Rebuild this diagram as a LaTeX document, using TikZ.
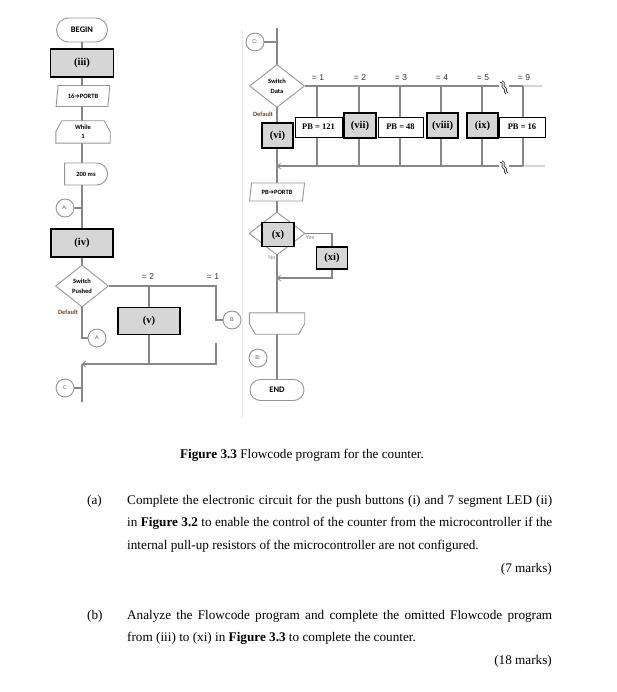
\documentclass[tikz,border=0pt]{standalone}
\usepackage{fontspec}
\setmainfont{Liberation Serif}
\newfontfamily\carl{Carlito}
\newfontfamily\arl{Liberation Sans}
\newfontfamily\dvs{DejaVu Sans}
\usetikzlibrary{shapes.geometric,shapes.misc,arrows.meta,backgrounds}
\definecolor{flow}{RGB}{135,135,135}
\definecolor{shpc}{RGB}{150,150,150}
\definecolor{boxfill}{RGB}{214,214,214}
\definecolor{deflt}{RGB}{115,65,25}
\begin{document}
\begin{tikzpicture}[x=1pt,y=-1pt,
 flowl/.style={draw=flow,line width=1.3pt},
 arr/.style={flowl,-{Straight Barb[length=3pt,width=6pt,line width=0.8pt]}},
 gbox/.style={draw=black,fill=boxfill,line width=1.3pt,inner sep=0pt,font=\bfseries\fontsize{10.5}{12}\selectfont},
 wbox/.style={draw=black,fill=white,line width=0.9pt,inner sep=0pt,font=\bfseries\fontsize{8.5}{10}\selectfont},
 term/.style={rounded rectangle,draw=shpc,fill=white,line width=0.9pt,inner sep=0pt,font=\carl\bfseries\fontsize{8.5}{10}\selectfont},
 delay/.style={rounded rectangle,rounded rectangle left arc=none,draw=shpc,fill=white,line width=0.9pt,inner sep=0pt,font=\carl\bfseries\fontsize{6.5}{7}\selectfont},
 para/.style={trapezium,trapezium left angle=74,trapezium right angle=106,trapezium stretches=true,draw=shpc,fill=white,line width=0.9pt,inner sep=0pt,font=\carl\bfseries\fontsize{6.5}{7}\selectfont},
 plainn/.style={inner sep=0pt,align=center,font=\carl\bfseries\fontsize{6.5}{9}\selectfont},
 shp/.style={draw=shpc,fill=white,line width=0.9pt},
 dia/.style={diamond,draw=shpc,fill=white,line width=0.9pt,inner sep=0pt,align=center,font=\carl\bfseries\fontsize{6.5}{9.5}\selectfont},
 conn/.style={circle,draw=shpc,fill=white,line width=0.9pt,minimum size=18pt,inner sep=0pt,text=black!65,font=\arl\fontsize{5.5}{6}\selectfont},
 lab/.style={inner sep=0pt,text=black!80,font=\arl\fontsize{8.5}{10}\selectfont},
 deflab/.style={inner sep=0pt,text=deflt,font=\carl\bfseries\fontsize{6.5}{7}\selectfont},
 yn/.style={inner sep=0pt,text=black!50,font=\arl\fontsize{5.5}{6}\selectfont},
 body/.style={inner sep=0pt,anchor=base west,font=\fontsize{13.2}{15}\selectfont},
 brk/.pic={
  \fill[white] (-4,-7) rectangle (6,7);
  \draw[black!75,line width=0.8pt] (-3,-6) .. controls (2,-5) and (-3,-1) .. (0,0) .. controls (3,1) and (0,5) .. (3,6);
  \draw[black!75,line width=0.8pt] (-1,-7) .. controls (4,-6) and (-1,-2) .. (2,-1) .. controls (5,0) and (2,4) .. (5,5);
 }]
\useasboundingbox (0,0) rectangle (617,692);

% ---------- left column ----------
\node[term,minimum width=51pt,minimum height=24pt] (begin) at (82,30) {BEGIN};
\node[gbox,minimum width=63pt,minimum height=28pt] (iii) at (82,63) {(iii)};
\node[para,minimum width=54pt,minimum height=21pt] (p16) at (83,96) {16{\dvs\fontsize{6.5}{7}\selectfont ➔}PORTB};
\node[plainn,minimum width=54pt,minimum height=22pt] (while) at (83,132) {While\\1};
\node[delay,minimum width=43pt,minimum height=22pt] (d200) at (86,174) {200 ms};
\node[conn] (ca) at (65,208) {A:};
\coordinate (ta) at (82,208);
\node[gbox,minimum width=62pt,minimum height=28pt] (iv) at (82,243) {(iv)};
\node[dia,minimum width=53pt,minimum height=42pt] (sw1) at (82,286) {Switch\\Pushed};
\node[lab] (l2) at (148,277) {= 2};
\node[lab] (l1) at (213,277) {= 1};
\coordinate (c1) at (216,286);
\coordinate (c2) at (216,320);
\node[conn] (gb) at (232,320) {B};
\coordinate (m2) at (149,286);
\node[gbox,minimum width=62pt,minimum height=27pt] (v) at (149,321) {(v)};
\coordinate (s1) at (216,343);
\coordinate (s2) at (216,364);
\coordinate (j1) at (149,364);
\coordinate (j0) at (82,364);
\node[deflab] (def1) at (68,312) {Default};
\coordinate (d1) at (82,338);
\node[conn] (ga) at (97,338) {A};
\node[conn] (cc) at (65,388) {C};
\coordinate (tc) at (82,388);
\coordinate (lend) at (82,402);

% ---------- right column ----------
\coordinate (rtop) at (277,28);
\node[conn] (cC) at (255,42) {C:};
\coordinate (tC) at (277,42);
\node[dia,minimum width=55pt,minimum height=43pt] (sd) at (277,86) {Switch\\Data};
\node[deflab] (def2) at (263,114) {Default};
\foreach \xx/\tt in {317/1,359/2,400/3,441/4,482/5,523/9}{
  \node[lab] (e\tt) at (\xx+1,78) {= \tt};
}
\node[gbox,minimum width=31pt,minimum height=25pt] (vi) at (277.5,135.5) {(vi)};
\node[wbox,minimum width=47pt,minimum height=20pt] (pb121) at (318.5,127) {PB = 121};
\node[gbox,minimum width=32pt,minimum height=25pt] (vii) at (360,125.5) {(vii)};
\node[wbox,minimum width=45pt,minimum height=20pt] (pb48) at (400.5,127) {PB = 48};
\node[gbox,minimum width=31pt,minimum height=25pt] (viii) at (442.5,125.5) {(viii)};
\node[gbox,minimum width=31pt,minimum height=25pt] (ix) at (482.5,125.5) {(ix)};
\node[wbox,minimum width=46pt,minimum height=20pt] (pb16) at (522,127) {PB = 16};
\coordinate (hr) at (523,86);
\coordinate (hrx) at (542,86);
\coordinate (br) at (523,166);
\coordinate (brx) at (545,166);
\coordinate (bm) at (277,166);
\node[para,minimum width=55pt,minimum height=18pt] (pbp) at (277,192) {PB{\dvs\fontsize{6.5}{7}\selectfont ➔}PORTB};
\node[dia,minimum width=56pt,minimum height=43pt] (xd) at (277,233.5) {};
\node[gbox,minimum width=32pt,minimum height=24pt] (x) at (278,234.7) {(x)};
\node[yn] (yes) at (310,238) {Yes};
\node[yn] (no) at (272,258) {No};
\coordinate (y1) at (332,233.5);
\node[gbox,minimum width=31pt,minimum height=22pt] (xi) at (332,258) {(xi)};
\coordinate (y2) at (332,278);
\coordinate (y3) at (277,278);
\node[plainn,minimum width=55pt,minimum height=21pt] (lp) at (277,323.5) {};
\node[conn] (cB) at (258,358) {B:};
\coordinate (tB) at (277,358);
\node[term,minimum width=54pt,minimum height=21pt] (end) at (277,390) {END};

\pic at (503,88) {brk};
\pic at (503,168) {brk};

\begin{scope}[on background layer]
  \draw[black!10,line width=0.5pt] (242,30) -- (242,418);
  % left
  \draw[flowl] (begin.south) -- (sw1.north);
  \draw[flowl] (ca) -- (ta);
  \draw[flowl] (sw1.east) -- (c1) -- (c2) -- (gb);
  \draw[flowl] (m2) -- (v.north);
  \draw[flowl] (v.south) -- (j1);
  \draw[arr] (s1) -- (s2) -- (j0);
  \draw[flowl] (sw1.south) -- (d1) -- (ga);
  \draw[flowl] (j0) -- (lend);
  \draw[flowl] (cc) -- (tc);
  % right
  \draw[flowl] (rtop) -- (end.north);
  \draw[flowl] (cC) -- (tC);
  \draw[flowl] (sd.east) -- (hr);
  \draw[draw=flow!35,line width=1.3pt] (hr) -- (hrx);
  \draw[draw=flow!35,line width=1.3pt] (br) -- (brx);
  \foreach \xx in {317,359,400,441,482,523}{
    \draw[flowl] (\xx,86) -- (\xx,166);
  }
  \draw[arr] (br) -- (bm);
  \draw[flowl] (xd.east) -- (y1) -- (xi.north);
  \draw[arr] (xi.south) -- (y2) -- (y3);
  % while shape (top corners chamfered)
  \draw[shp] (while.south west) -- ([yshift=-11pt]while.north west) -- ([xshift=6pt]while.north west)
     -- ([xshift=-6pt]while.north east) -- ([yshift=-11pt]while.north east) -- (while.south east) -- cycle;
  % loop end shape (bottom corners chamfered)
  \draw[shp] (lp.north west) -- ([yshift=10.5pt]lp.south west) -- ([xshift=6pt]lp.south west)
     -- ([xshift=-6pt]lp.south east) -- ([yshift=10.5pt]lp.south east) -- (lp.north east) -- cycle;
\end{scope}

% ---------- caption and text ----------
\node[inner sep=0pt,font=\fontsize{13.2}{15}\selectfont] (cap) at (302,455) {\textbf{Figure 3.3} Flowcode program for the counter.};

\node[body] (qa) at (87,504) {(a)};
\node[body] (a1) at (127,504) {\makebox[425pt][s]{Complete the electronic circuit for the push buttons (i) and 7 segment LED (ii)}};
\node[body] (a2) at (127,526.5) {\makebox[425pt][s]{in \textbf{Figure 3.2} to enable the control of the counter from the microcontroller if the}};
\node[body] (a3) at (127,549) {internal pull-up resistors of the microcontroller are not configured.};
\node[body,anchor=base east] (a4) at (552,572) {(7 marks)};
\node[body] (qb) at (87,619) {(b)};
\node[body] (b1) at (127,619) {\makebox[425pt][s]{Analyze the Flowcode program and complete the omitted Flowcode program}};
\node[body] (b2) at (127,641) {from (iii) to (xi) in \textbf{Figure 3.3} to complete the counter.};
\node[body,anchor=base east] (b3) at (552,664) {(18 marks)};
\end{tikzpicture}
\end{document}
